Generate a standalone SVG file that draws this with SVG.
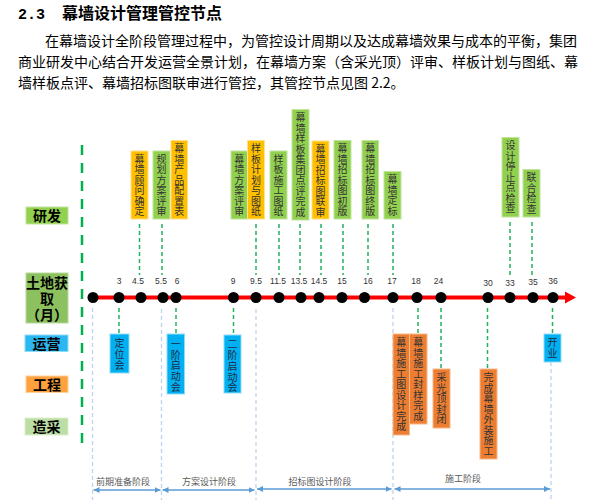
<svg xmlns="http://www.w3.org/2000/svg" width="598" height="500" viewBox="0 0 598 500">
<style>
.cjk{font-family:"Noto Sans CJK SC","Noto Sans",sans-serif;}
.para{font-size:14px;fill:#000;}
.lbl{font-size:14px;font-weight:bold;fill:#000;text-anchor:middle;}
.vt{font-size:10px;fill:#333;writing-mode:vertical-rl;text-orientation:upright;letter-spacing:0.5px;}
.vtb{font-size:10px;fill:#1d2b45;writing-mode:vertical-rl;text-orientation:upright;letter-spacing:0.8px;}
.num{font-family:"Liberation Sans",Arial,sans-serif;font-size:8.5px;fill:#333;text-anchor:middle;}
.ph{font-size:9px;fill:#595959;text-anchor:middle;}
.g{fill:#92D050;stroke:#c2e59c;stroke-width:1;}
.y{fill:#FFC000;stroke:#ffe08c;stroke-width:1;}
.b{fill:#00B0F0;stroke:#8fdcf8;stroke-width:1;}
.o{fill:#ED7D31;stroke:#f6b98c;stroke-width:1;}
.gd{stroke:#22b35e;stroke-width:1.5;stroke-dasharray:4 3;fill:none;}
.sep{stroke:#bcd4ee;stroke-width:1.3;stroke-dasharray:4 3;fill:none;}
.pa{stroke:#5b9bd5;stroke-width:1.5;fill:none;marker-start:url(#ah);marker-end:url(#ah);}
</style>
<defs>
<marker id="ah" viewBox="0 0 6 6" refX="6" refY="3" markerWidth="6" markerHeight="6" markerUnits="userSpaceOnUse" orient="auto-start-reverse"><path d="M0,0 L6,3 L0,6 z" fill="#5b9bd5"/></marker>
</defs>
<rect width="598" height="500" fill="#fff"/>

<g id="heading">
<text x="18" y="19" font-family="'Liberation Mono',monospace" font-weight="bold" font-size="15" fill="#000">2.3</text>
<text x="62" y="19" class="cjk" font-weight="bold" font-size="16" fill="#000">幕墙设计管理管控节点</text>
</g>
<g id="paragraph" class="cjk para">
<text x="45" y="46">在幕墙设计全阶段管理过程中，为管控设计周期以及达成幕墙效果与成本的平衡，集团</text>
<text x="18" y="67">商业研发中心结合开发运营全景计划，在幕墙方案（含采光顶）评审、样板计划与图纸、幕</text>
<text x="18" y="88">墙样板点评、幕墙招标图联审进行管控，其管控节点见图 2.2。</text>
</g>

<g id="row-labels" class="cjk">
<g id="lbl-yanfa"><rect x="26" y="207" width="42" height="17" fill="#92D050" stroke="#c2e59c"/><text class="lbl" x="47" y="220.5">研发</text></g>
<g id="lbl-tudi"><rect x="26" y="273" width="42" height="50" fill="#8DC05E" stroke="#b5d99a"/><text class="lbl"><tspan x="47" y="288">土地获</tspan><tspan x="47" y="304">取</tspan><tspan x="47" y="320">（月）</tspan></text></g>
<g id="lbl-yunying"><rect x="25" y="335" width="43" height="16.5" fill="#2DB7F0" stroke="#8fdcf8"/><text class="lbl" x="46.5" y="348.5">运营</text></g>
<g id="lbl-gongcheng"><rect x="26" y="376" width="42" height="16.5" fill="#FFA23E" stroke="#ffd09a"/><text class="lbl" x="47" y="389.5">工程</text></g>
<g id="lbl-zaocai"><rect x="25" y="418" width="43" height="17" fill="#BCDDA4" stroke="#dcefcc"/><text class="lbl" x="46.5" y="431.5">造采</text></g>
</g>

<line x1="82" y1="145" x2="82" y2="447" stroke="#00B050" stroke-width="2.5" stroke-dasharray="10 8"/>

<g id="connectors">
<line class="gd" x1="139.5" y1="224" x2="139.5" y2="275"/>
<line class="gd" x1="162" y1="224" x2="162" y2="275"/>
<line class="gd" x1="256" y1="224" x2="256" y2="275"/>
<line class="gd" x1="279" y1="224" x2="279" y2="275"/>
<line class="gd" x1="300" y1="224" x2="300" y2="275"/>
<line class="gd" x1="321" y1="224" x2="321" y2="275"/>
<line class="gd" x1="343" y1="224" x2="343" y2="275"/>
<line class="gd" x1="368" y1="224" x2="368" y2="275"/>
<line class="gd" x1="393" y1="224" x2="393" y2="275"/>
<line class="gd" x1="510" y1="222" x2="510" y2="275"/>
<line class="gd" x1="532" y1="222" x2="532" y2="275"/>

<line class="gd" x1="119" y1="308" x2="119" y2="334"/>
<line class="gd" x1="176" y1="308" x2="176" y2="334"/>
<line class="gd" x1="233.5" y1="308" x2="233.5" y2="335"/>
<line class="gd" x1="418" y1="308" x2="418" y2="334"/>
<line class="gd" x1="441" y1="308" x2="441" y2="369"/>
<line class="gd" x1="487.5" y1="308" x2="487.5" y2="369"/>
<line class="gd" x1="552.5" y1="308" x2="552.5" y2="334"/>

<line class="sep" x1="92.5" y1="308" x2="92.5" y2="500"/>
<line class="sep" x1="161.5" y1="309" x2="161.5" y2="500"/>
<line class="sep" x1="256" y1="309" x2="256" y2="500"/>
<line class="sep" x1="393" y1="308" x2="393" y2="500"/>
<line class="sep" x1="551" y1="362" x2="551" y2="500"/>

<line class="pa" x1="93.5" y1="490" x2="160.5" y2="490"/>
<line class="pa" x1="162.5" y1="490" x2="254.5" y2="490"/>
<line class="pa" x1="257" y1="489" x2="391.5" y2="489"/>
<line class="pa" x1="394.5" y1="489" x2="550" y2="489"/>
</g>

<g id="phase-labels" class="cjk">
<text class="ph" x="123" y="485">前期准备阶段</text>
<text class="ph" x="209" y="485">方案设计阶段</text>
<text class="ph" x="320" y="485">招标图设计阶段</text>
<text class="ph" x="463" y="481.5">施工阶段</text>
</g>

<g id="timeline">
<line x1="93" y1="297.5" x2="567" y2="297.5" stroke="#FF0000" stroke-width="4"/>
<polygon points="565,291.5 576,297.5 565,303.5" fill="#FF0000"/>
<g fill="#000">
<circle cx="93" cy="297.5" r="5.5"/><circle cx="119" cy="297.5" r="5.5"/><circle cx="141" cy="297.5" r="5.5"/><circle cx="163" cy="297.5" r="5.5"/><circle cx="176" cy="297.5" r="5.5"/><circle cx="233.5" cy="297.5" r="5.5"/><circle cx="256" cy="297.5" r="5.5"/><circle cx="279" cy="297.5" r="5.5"/><circle cx="301" cy="297.5" r="5.5"/><circle cx="319" cy="297.5" r="5.5"/><circle cx="342" cy="297.5" r="5.5"/><circle cx="364.5" cy="297.5" r="5.5"/><circle cx="393" cy="297.5" r="5.5"/><circle cx="417" cy="297.5" r="5.5"/><circle cx="441" cy="297.5" r="5.5"/><circle cx="488" cy="297.5" r="5.5"/><circle cx="510" cy="297.5" r="5.5"/><circle cx="533" cy="297.5" r="5.5"/><circle cx="553" cy="297.5" r="5.5"/>
</g>
<g class="num">
<text x="119" y="284">3</text><text x="138" y="284">4.5</text><text x="161" y="284">5.5</text><text x="177" y="284">6</text><text x="233" y="284">9</text><text x="256" y="284">9.5</text><text x="278" y="284">11.5</text><text x="299" y="284">13.5</text><text x="319" y="284">14.5</text><text x="342" y="284">15</text><text x="368" y="284">16</text><text x="392" y="284">17</text><text x="416" y="284">18</text><text x="438.5" y="284">24</text><text x="488" y="286">30</text><text x="510" y="286">33</text><text x="533" y="285">35</text><text x="553" y="284">36</text>
</g>
</g>

<g id="top-nodes" class="cjk">
<g id="n-guwen"><rect class="y" x="131" y="151" width="17" height="68"/><text class="vt" x="139.5" y="154">幕墙顾问确定</text></g>
<g id="n-guihua"><rect class="g" x="153" y="151" width="17" height="68"/><text class="vt" x="161.5" y="154">规划方案评审</text></g>
<g id="n-chanpin"><rect class="y" x="171" y="140.5" width="16.5" height="78.5"/><text class="vt" x="179.2" y="143.5">幕墙产品配置表</text></g>
<g id="n-fangan"><rect class="g" x="231" y="151" width="16.5" height="68"/><text class="vt" x="239.2" y="154">幕墙方案评审</text></g>
<g id="n-yangban"><rect class="y" x="247.5" y="140.5" width="17" height="78.5"/><text class="vt" x="256" y="143.5">样板计划与图纸</text></g>
<g id="n-yangbansg"><rect class="g" x="270" y="151" width="17" height="68"/><text class="vt" x="278.5" y="154">样板施工图纸</text></g>
<g id="n-dianping"><rect class="g" x="292" y="109.5" width="17" height="110.5"/><text class="vt" x="300.5" y="112.5">幕墙样板集团点评完成</text></g>
<g id="n-lianshen"><rect class="y" x="312" y="141" width="17" height="78"/><text class="vt" x="320.5" y="144">幕墙招标图联审</text></g>
<g id="n-chuban"><rect class="g" x="334" y="140.5" width="17" height="78.5"/><text class="vt" x="342.5" y="143.5">幕墙招标图初版</text></g>
<g id="n-zhongban"><rect class="g" x="362" y="140.5" width="16.5" height="78.5"/><text class="vt" x="370.2" y="143.5">幕墙招标图终版</text></g>
<g id="n-dingbiao"><rect class="g" x="384" y="171.5" width="17" height="47.5"/><text class="vt" x="392.5" y="174.5">幕墙定标</text></g>
<g id="n-tingzhi"><rect class="g" x="502" y="137.5" width="17" height="79.5"/><text class="vt" x="510.5" y="140.5">设计停止点检查</text></g>
<g id="n-lianhe"><rect class="g" x="523" y="169.5" width="17" height="47.5"/><text class="vt" x="531.5" y="172.5">联合检查</text></g>
</g>

<g id="bottom-nodes" class="cjk">
<g id="n-dingwei"><rect class="b" x="110" y="334" width="19" height="39"/><text class="vtb" x="119.5" y="338.5">定位会</text></g>
<g id="n-yijie"><rect class="b" x="167" y="334" width="17.5" height="60"/><text class="vtb" x="175.7" y="339">一阶启动会</text></g>
<g id="n-erjie"><rect class="b" x="224" y="335" width="17" height="58"/><text class="vtb" x="232.5" y="339.5">二阶启动会</text></g>
<g id="n-sgtu"><rect class="o" x="393" y="334" width="16.5" height="101"/><text class="vt" x="401.2" y="337.5" letter-spacing="0.6">幕墙施工图设计完成</text></g>
<g id="n-fengyang"><rect class="o" x="409.5" y="334" width="17.5" height="90"/><text class="vt" x="418.2" y="337.5" letter-spacing="0.6">幕墙施工封样完成</text></g>
<g id="n-caiguang"><rect class="o" x="433" y="369" width="17" height="59"/><text class="vt" x="441.5" y="372.5" letter-spacing="0.6">采光顶封闭</text></g>
<g id="n-waizhuang"><rect class="o" x="480" y="369" width="17" height="90"/><text class="vt" x="488.5" y="372.5" letter-spacing="0.6">完成幕墙外装施工</text></g>
<g id="n-kaiye"><rect class="b" x="544" y="334" width="17" height="28"/><text class="vtb" x="552.5" y="337.5" font-size="10.5">开业</text></g>
</g>
</svg>
